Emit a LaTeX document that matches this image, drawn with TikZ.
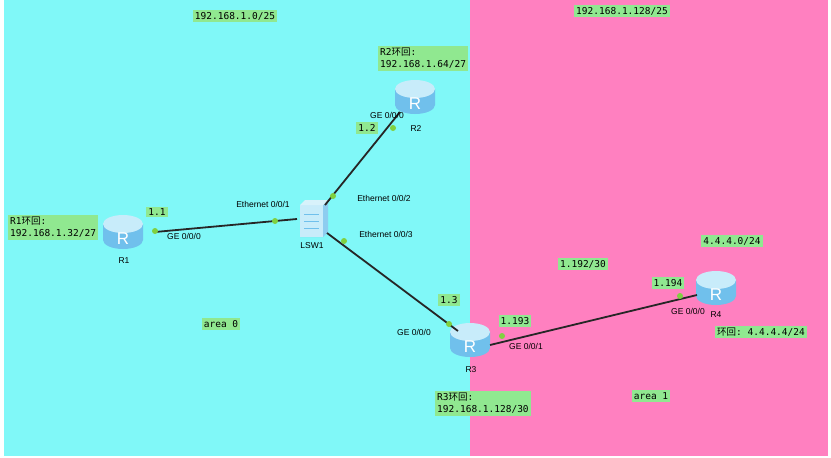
\documentclass[tikz,border=0pt]{standalone}
\usepackage{fontspec}
\setsansfont{Liberation Sans}
\setmonofont{DejaVu Sans Mono}
\newfontfamily\cjk{Noto Sans CJK SC}
\begin{document}
\begin{tikzpicture}[x=1pt,y=-1pt,
  lab/.style={fill=labgreen,font=\ttfamily\fontsize{9.5}{12}\selectfont,inner sep=2pt,align=left},
  port/.style={font=\sffamily\fontsize{8.5}{10}\selectfont,inner sep=0pt},
  link/.style={line width=1.8pt,black!85},
  dot/.style={fill=dotgreen,circle,inner sep=0pt,minimum size=6pt}]
\definecolor{cyanbg}{HTML}{80F8F8}
\definecolor{pinkbg}{HTML}{FF80C0}
\definecolor{labgreen}{HTML}{90E890}
\definecolor{dotgreen}{HTML}{80D040}
\definecolor{rtop}{HTML}{C8ECFA}
\definecolor{rbody}{HTML}{70C0EC}
\useasboundingbox (0,0) rectangle (831,458);
\fill[white] (0,0) rectangle (831,458);
\fill[cyanbg] (4,0) rectangle (470,456);
\fill[pinkbg] (470,0) rectangle (828,456);
% routers
\foreach \n/\x/\y in {R1/123/232,R2/415/97,R3/470/340,R4/716/288}{
  \fill[rbody] (\x-20,\y-8) -- (\x-20,\y+8) arc[start angle=180,end angle=0,x radius=20,y radius=9] -- (\x+20,\y-8) -- cycle;
  \fill[rtop] (\x,\y-8) ellipse[x radius=20,y radius=9];
  \node[text=white,font=\sffamily\fontsize{17}{17}\selectfont] at (\x,\y+7) {R};
  \coordinate (\n) at (\x,\y);
}
% switch
\fill[rbody!80!white] (300,205) -- (323,205) -- (328,200) -- (328,232) -- (323,237) -- (300,237) -- cycle;
\fill[rtop] (300,205) rectangle (323,237);
\fill[rtop!70!white] (300,205) -- (305,200) -- (328,200) -- (323,205) -- cycle;
\draw[rbody,line width=0.8pt] (304,214) -- (319,214) (304,221) -- (319,221) (304,228) -- (319,228);
\coordinate (LSW1) at (313,218);
% links
\draw[link] (155,232) coordinate (a1) -- (297,219) coordinate (s1);
\draw[link] (325,205) coordinate (s2) -- (400,112) coordinate (a2);
\draw[link] (327,233) coordinate (s3) -- (458,331) coordinate (a3);
\draw[link] (490,345) coordinate (a4) -- (697,295) coordinate (a5);
\foreach \x/\y in {155/231,275/221,333/196,393/128,344/241,449/324,502/336,680/296}
  \node[dot] at (\x,\y) {};
% plain labels
\node[port] at (387,115) {GE 0/0/0};
\node[port] at (416,129) {R2};
\node[port] at (263,204) {Ethernet 0/0/1};
\node[port] at (384,198) {Ethernet 0/0/2};
\node[port] at (386,234) {Ethernet 0/0/3};
\node[port] at (312,246) {LSW1};
\node[port] at (124,261) {R1};
\node[port] at (184,236) {GE 0/0/0};
\node[port] at (414,332) {GE 0/0/0};
\node[port] at (471,370) {R3};
\node[port] at (526,346) {GE 0/0/1};
\node[port] at (688,311) {GE 0/0/0};
\node[port] at (716,315) {R4};
% green labels
\node[lab] at (235,16) {192.168.1.0/25};
\node[lab] at (622,11) {192.168.1.128/25};
\node[lab,anchor=north west] at (378,46) {R2{\cjk 环回}:\\192.168.1.64/27};
\node[lab] at (367,128) {1.2};
\node[lab] at (157,212) {1.1};
\node[lab,anchor=north west] at (8,215) {R1{\cjk 环回}:\\192.168.1.32/27};
\node[lab] at (449,300) {1.3};
\node[lab] at (515,321) {1.193};
\node[lab] at (583,264) {1.192/30};
\node[lab] at (668,283) {1.194};
\node[lab] at (732,241) {4.4.4.0/24};
\node[lab] at (761,332) {{\cjk 环回}: 4.4.4.4/24};
\node[lab] at (221,324) {area 0};
\node[lab] at (651,396) {area 1};
\node[lab,anchor=north west] at (435,391) {R3{\cjk 环回}:\\192.168.1.128/30};
\end{tikzpicture}
\end{document}
